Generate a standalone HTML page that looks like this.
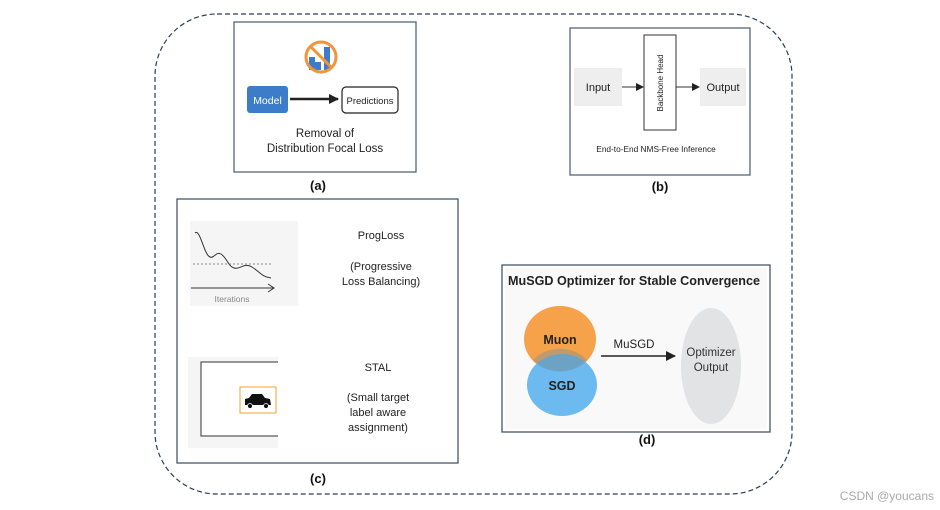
<!DOCTYPE html>
<html><head><meta charset="utf-8"><style>
body{margin:0;background:#fff;}
svg{display:block;font-family:"Liberation Sans",sans-serif;}
</style></head><body>
<svg width="940" height="510" viewBox="0 0 940 510">
<defs>
<marker id="ah" markerWidth="8" markerHeight="8" refX="7" refY="4" orient="auto" markerUnits="userSpaceOnUse"><path d="M0,0 L8,4 L0,8 z" fill="#222"/></marker>
<marker id="ah2" markerWidth="10" markerHeight="10" refX="9" refY="5" orient="auto" markerUnits="userSpaceOnUse"><path d="M0,0 L10,5 L0,10 z" fill="#222"/></marker>
</defs>
<rect x="155" y="14" width="637" height="480" rx="62" fill="none" stroke="#2c3e50" stroke-width="1.2" stroke-dasharray="5,3"/>

<!-- (a) -->
<rect x="234" y="22" width="182" height="150" fill="#fff" stroke="#4a5a6a" stroke-width="1.2"/>
<rect x="309" y="57" width="6" height="13" fill="#3d7cc9"/><rect x="315" y="62" width="6" height="8" fill="#3d7cc9"/><rect x="324" y="47" width="6" height="23" fill="#3d7cc9"/>
<circle cx="321" cy="57" r="15" fill="none" stroke="#f0953a" stroke-width="3"/>
<line x1="310" y1="46" x2="332" y2="68" stroke="#f0953a" stroke-width="3"/>
<rect x="247" y="86" width="41" height="27" rx="3" fill="#3d7cc9"/>
<text x="267.5" y="104" font-size="10.5" fill="#fff" text-anchor="middle">Model</text>
<line x1="290" y1="99" x2="338" y2="99" stroke="#222" stroke-width="2.5" marker-end="url(#ah2)"/>
<rect x="342" y="87" width="56" height="26" rx="4" fill="#fff" stroke="#222" stroke-width="1.2"/>
<text x="370" y="104" font-size="9.5" text-anchor="middle" fill="#222">Predictions</text>
<text x="325" y="137" font-size="11.5" text-anchor="middle" fill="#222">Removal of</text>
<text x="325" y="152" font-size="11.5" text-anchor="middle" fill="#222">Distribution Focal Loss</text>
<text x="318" y="190" font-size="13" font-weight="bold" text-anchor="middle" fill="#111">(a)</text>

<!-- (b) -->
<rect x="570" y="28" width="180" height="147" fill="#fff" stroke="#4a5a6a" stroke-width="1.2"/>
<rect x="574" y="68" width="48" height="38" fill="#eeeeee"/>
<text x="598" y="91" font-size="11" text-anchor="middle" fill="#222">Input</text>
<rect x="700" y="68" width="46" height="38" fill="#eeeeee"/>
<text x="723" y="91" font-size="11" text-anchor="middle" fill="#222">Output</text>
<rect x="644" y="35" width="32" height="95" fill="#fff" stroke="#333" stroke-width="1"/>
<text transform="translate(663,83) rotate(-90)" font-size="8" text-anchor="middle" fill="#222">Backbone Head</text>
<line x1="622" y1="87" x2="643" y2="87" stroke="#333" stroke-width="1" marker-end="url(#ah)"/>
<line x1="676" y1="87" x2="699" y2="87" stroke="#333" stroke-width="1" marker-end="url(#ah)"/>
<text x="656" y="152" font-size="8.3" text-anchor="middle" fill="#222">End-to-End NMS-Free Inference</text>
<text x="660" y="191" font-size="13" font-weight="bold" text-anchor="middle" fill="#111">(b)</text>

<!-- (c) -->
<rect x="177" y="199" width="281" height="264" fill="#fff" stroke="#3a4a5a" stroke-width="1.2"/>
<rect x="190" y="221" width="108" height="85" fill="#f5f5f5"/>
<path d="M195,233 C200,228 204,255 210,257 C214,259 216,251 221,254 C227,258 228,266 234,268 C240,270 244,262 252,267 C260,272 262,277 271,278" fill="none" stroke="#333" stroke-width="1"/>
<line x1="193" y1="264" x2="272" y2="264" stroke="#666" stroke-width="0.8" stroke-dasharray="2,2"/>
<line x1="191" y1="288" x2="273" y2="288" stroke="#333" stroke-width="1"/>
<path d="M268,284 L274,288 L268,292" fill="none" stroke="#333" stroke-width="1"/>
<text x="232" y="302" font-size="8.5" text-anchor="middle" fill="#888">Iterations</text>
<text x="381" y="239" font-size="11" text-anchor="middle" fill="#222">ProgLoss</text>
<text x="381" y="270" font-size="11" text-anchor="middle" fill="#222">(Progressive</text>
<text x="381" y="285" font-size="11" text-anchor="middle" fill="#222">Loss Balancing)</text>
<rect x="188" y="357" width="90" height="91" fill="#f5f5f5"/>
<path d="M278,362 L201,362 L201,436 L278,436" fill="#fff" stroke="#333" stroke-width="1"/>
<rect x="240" y="387" width="36" height="26" fill="#fff" stroke="#f0a030" stroke-width="1"/>
<path d="M245,405 L245,399 L249,398 L252,394 L262,394 L265,398 L270,399 L271,405 Z" fill="#111"/>
<circle cx="250" cy="406" r="2.5" fill="#111" stroke="#fff" stroke-width="0.8"/><circle cx="266" cy="406" r="2.5" fill="#111" stroke="#fff" stroke-width="0.8"/>
<text x="378" y="371" font-size="11" text-anchor="middle" fill="#222">STAL</text>
<text x="378" y="401" font-size="11" text-anchor="middle" fill="#222">(Small target</text>
<text x="378" y="416" font-size="11" text-anchor="middle" fill="#222">label aware</text>
<text x="378" y="431" font-size="11" text-anchor="middle" fill="#222">assignment)</text>
<text x="318" y="483" font-size="13" font-weight="bold" text-anchor="middle" fill="#111">(c)</text>

<!-- (d) -->
<rect x="502" y="265" width="268" height="167" fill="#fff" stroke="#3a4a5a" stroke-width="1.2"/>
<rect x="505" y="268" width="262" height="161" fill="#f9f9f9"/>
<text x="508" y="285" font-size="13" font-weight="bold" fill="#222" textLength="252" lengthAdjust="spacingAndGlyphs">MuSGD Optimizer for Stable Convergence</text>
<ellipse cx="560" cy="339" rx="36" ry="33" fill="#f6a24a"/>
<ellipse cx="562" cy="385" rx="35" ry="31" fill="#5cb3ee" fill-opacity="0.9"/>
<path d="M533,360 A36,33 0 0 0 587,360 A35,31 0 0 0 533,360 Z" fill="#6d8fa0" fill-opacity="0.4"/>
<text x="560" y="344" font-size="12.5" font-weight="bold" text-anchor="middle" fill="#222">Muon</text>
<text x="562" y="390" font-size="12.5" font-weight="bold" text-anchor="middle" fill="#222">SGD</text>
<line x1="601" y1="356" x2="675" y2="356" stroke="#222" stroke-width="1.5" marker-end="url(#ah2)"/>
<text x="634" y="348" font-size="11.5" text-anchor="middle" fill="#222">MuSGD</text>
<ellipse cx="711" cy="366" rx="30" ry="58" fill="#e2e3e5"/>
<text x="711" y="356" font-size="11.5" text-anchor="middle" fill="#333">Optimizer</text>
<text x="711" y="371" font-size="11.5" text-anchor="middle" fill="#333">Output</text>
<text x="647" y="444" font-size="13" font-weight="bold" text-anchor="middle" fill="#111">(d)</text>

<text x="934" y="500" font-size="12" text-anchor="end" fill="#aaa">CSDN @youcans</text>
</svg>
</body></html>
